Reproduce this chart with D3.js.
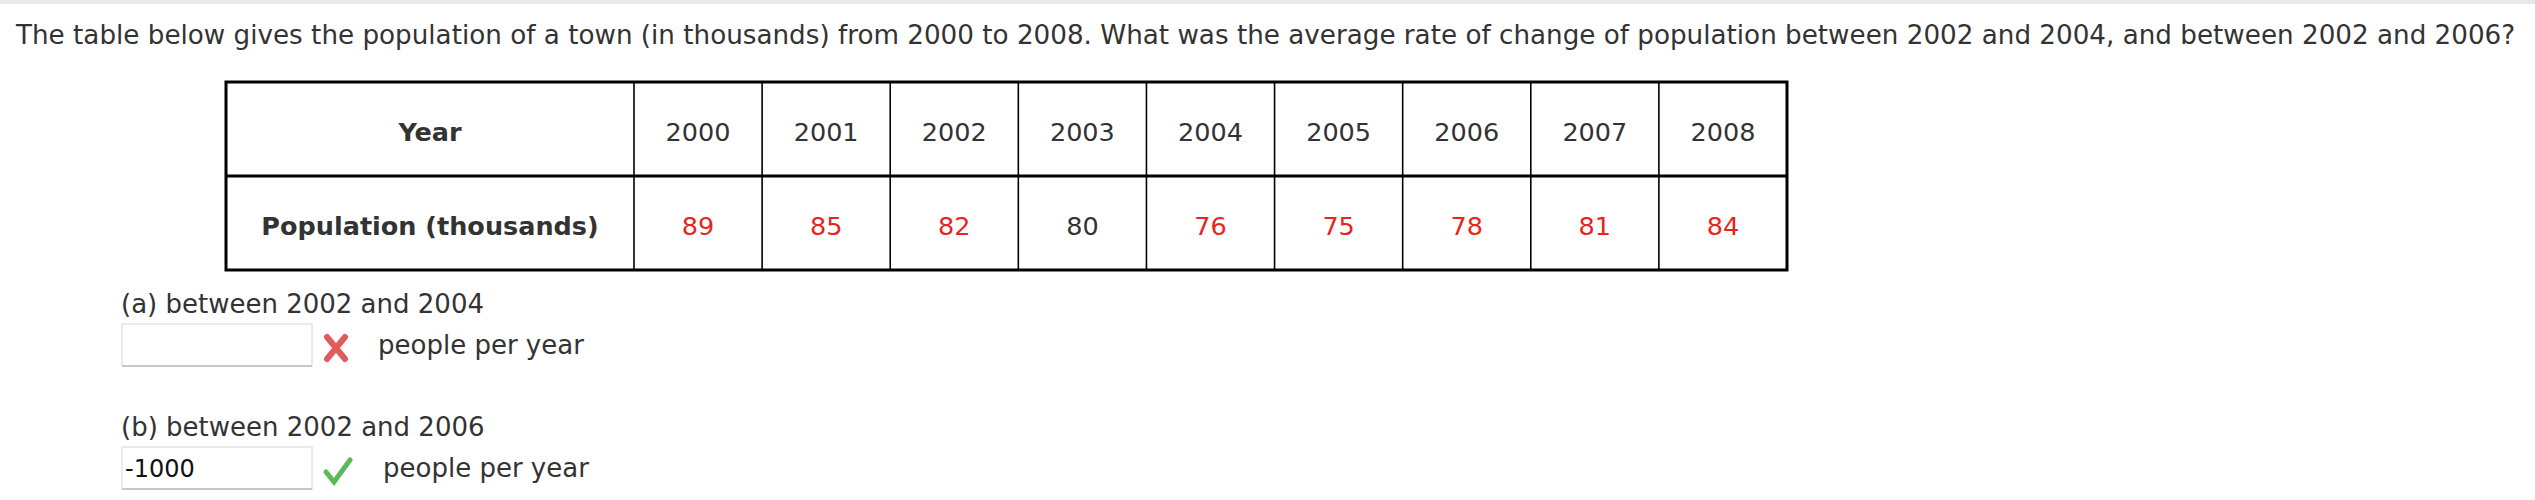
<!DOCTYPE html>
<html><head><meta charset="utf-8">
<script src="https://cdn.jsdelivr.net/npm/d3@7"></script>
<style>body{margin:0;background:#fff}text{font-family:Verdana,"DejaVu Sans",sans-serif}</style>
</head><body>
<script>
const years = ["2000","2001","2002","2003","2004","2005","2006","2007","2008"]
const population = [89,85,82,80,76,75,78,81,84]
const highlighted = [true,true,true,false,true,true,true,true,true]
const title = "The table below gives the population of a town (in thousands) from 2000 to 2008. What was the average rate of change of population between 2002 and 2004, and between 2002 and 2006?"

const W = 2535, H = 500
const svg = d3.select("body").append("svg").attr("width", W).attr("height", H)

svg.append("rect").attr("x",0).attr("y",0).attr("width",W).attr("height",4).attr("fill","#e8e8e8")

const t = svg.append("text").attr("x",16).attr("y",44).attr("fill","#333")
  .style("font-size","24px").text(title)
const tl = t.node().getComputedTextLength()
t.style("font-size", (24*2500/tl) + "px")

// table
const tbl = {left:226, top:82, mid:176, bottom:270, firstRight:634, right:1787}
const xScale = d3.scaleBand().domain(years).range([tbl.firstRight, tbl.right])
const g = svg.append("g")
const rowY = [(tbl.top+tbl.mid)/2 + 3, (tbl.mid+tbl.bottom)/2 + 3]
const fs = "25.5px"

years.forEach((y,i) => {
  g.append("line").attr("x1",xScale(y)).attr("x2",xScale(y))
    .attr("y1",tbl.top).attr("y2",tbl.bottom).attr("stroke","#000").attr("stroke-width",1.6)
  g.append("text").attr("x",xScale(y)+xScale.bandwidth()/2).attr("y",rowY[0])
    .attr("text-anchor","middle").attr("dominant-baseline","central")
    .attr("fill","#333").style("font-size",fs).text(y)
  g.append("text").attr("x",xScale(y)+xScale.bandwidth()/2).attr("y",rowY[1])
    .attr("text-anchor","middle").attr("dominant-baseline","central")
    .attr("fill",highlighted[i] ? "#e8251c" : "#333").style("font-size",fs).text(population[i])
})
g.append("line").attr("x1",tbl.left).attr("x2",tbl.right).attr("y1",tbl.mid).attr("y2",tbl.mid)
  .attr("stroke","#000").attr("stroke-width",3)
g.append("rect").attr("x",tbl.left).attr("y",tbl.top).attr("width",tbl.right-tbl.left)
  .attr("height",tbl.bottom-tbl.top).attr("fill","none").attr("stroke","#000").attr("stroke-width",3)
const hx = (tbl.left+tbl.firstRight)/2
g.append("text").attr("x",hx).attr("y",rowY[0]).attr("text-anchor","middle").attr("dominant-baseline","central")
  .attr("fill","#333").style("font-size",fs).style("font-weight","bold").text("Year")
g.append("text").attr("x",hx).attr("y",rowY[1]).attr("text-anchor","middle").attr("dominant-baseline","central")
  .attr("fill","#333").style("font-size",fs).style("font-weight","bold").text("Population (thousands)")

// answers
function answer(label, y, value, ok){
  svg.append("text").attr("x",121).attr("y",y).attr("dominant-baseline","central")
    .attr("fill","#333").style("font-size","26px").text(label)
  const by = y+20
  svg.append("rect").attr("x",122).attr("y",by).attr("width",190).attr("height",42)
    .attr("fill","#fff").attr("stroke","#e4e4e4").attr("stroke-width",1.5)
  svg.append("line").attr("x1",122).attr("x2",312).attr("y1",by+42).attr("y2",by+42)
    .attr("stroke","#c8c8c8").attr("stroke-width",2)
  if (value) svg.append("text").attr("x",125).attr("y",by+22).attr("dominant-baseline","central")
    .attr("fill","#111").style("font-size","24px").text(value)
  const cy = by+23
  if (ok) {
    svg.append("path").attr("d",`M326,${cy+2} L334,${cy+12} L350,${cy-10}`)
      .attr("fill","none").attr("stroke","#5cb85c").attr("stroke-width",5).attr("stroke-linecap","round")
  } else {
    svg.append("path").attr("d",`M327,${cy-10} L345,${cy+12} M345,${cy-10} L327,${cy+12}`)
      .attr("fill","none").attr("stroke","#e05c5c").attr("stroke-width",6).attr("stroke-linecap","round")
  }
  svg.append("text").attr("x",ok?383:378).attr("y",cy-2).attr("dominant-baseline","central")
    .attr("fill","#333").style("font-size","26px").text("people per year")
}
answer("(a) between 2002 and 2004", 304, "", false)
answer("(b) between 2002 and 2006", 427, "-1000", true)
</script>
</body></html>
